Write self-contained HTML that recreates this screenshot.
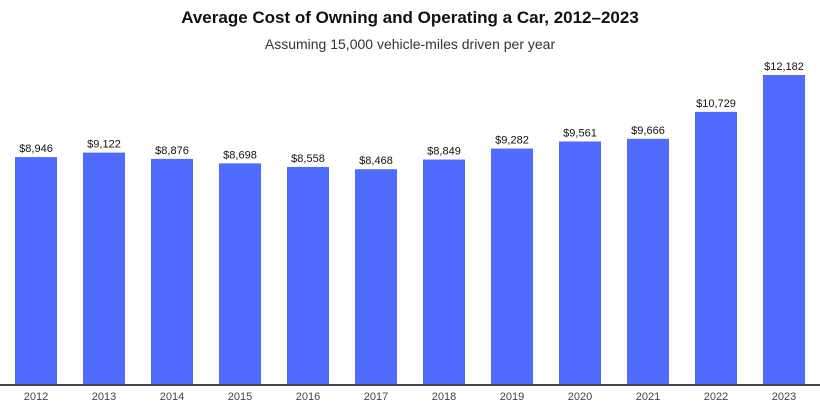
<!DOCTYPE html>
<html><head><meta charset="utf-8"><style>
body{margin:0;background:#fff;font-family:"Liberation Sans",sans-serif}
</style></head><body>
<svg width="820" height="410" xmlns="http://www.w3.org/2000/svg">
<text x="410" y="23" text-anchor="middle" font-size="17" font-weight="bold" fill="#111">Average Cost of Owning and Operating a Car, 2012–2023</text>
<text x="410" y="49" text-anchor="middle" font-size="14" fill="#333">Assuming 15,000 vehicle-miles driven per year</text>
<g id="bars"></g>
<line x1="0" y1="385" x2="820" y2="385" stroke="#444" stroke-width="2"/>
</svg>
<script>
const years=["2012","2013","2014","2015","2016","2017","2018","2019","2020","2021","2022","2023"];
const costs=[8946,9122,8876,8698,8558,8468,8849,9282,9561,9666,10729,12182];
const valueLabels=["$8,946","$9,122","$8,876","$8,698","$8,558","$8,468","$8,849","$9,282","$9,561","$9,666","$10,729","$12,182"];
const ns="http://www.w3.org/2000/svg";
const g=document.getElementById('bars');
const base=384, scale=309/12182;
const xs=i=>15+i*68, bw=42;
const ys=v=>base-v*scale;
years.forEach((yr,i)=>{
  const r=document.createElementNS(ns,'rect');
  r.setAttribute('x',xs(i));r.setAttribute('y',ys(costs[i]));
  r.setAttribute('width',bw);r.setAttribute('height',base-ys(costs[i]));
  r.setAttribute('fill','#526bff');
  
  
  g.appendChild(r);
  const t=document.createElementNS(ns,'text');
  t.setAttribute('x',xs(i)+bw/2);t.setAttribute('y',ys(costs[i])-5);
  t.setAttribute('text-anchor','middle');t.setAttribute('font-size','11');t.setAttribute('fill','#111');
  t.textContent=valueLabels[i];
  
  
  g.appendChild(t);
  const l=document.createElementNS(ns,'text');
  l.setAttribute('x',xs(i)+bw/2);l.setAttribute('y',400);
  l.setAttribute('text-anchor','middle');l.setAttribute('font-size','11');l.setAttribute('fill','#444');
  l.textContent=yr;
  
  
  g.appendChild(l);
});
</script>
</body></html>
